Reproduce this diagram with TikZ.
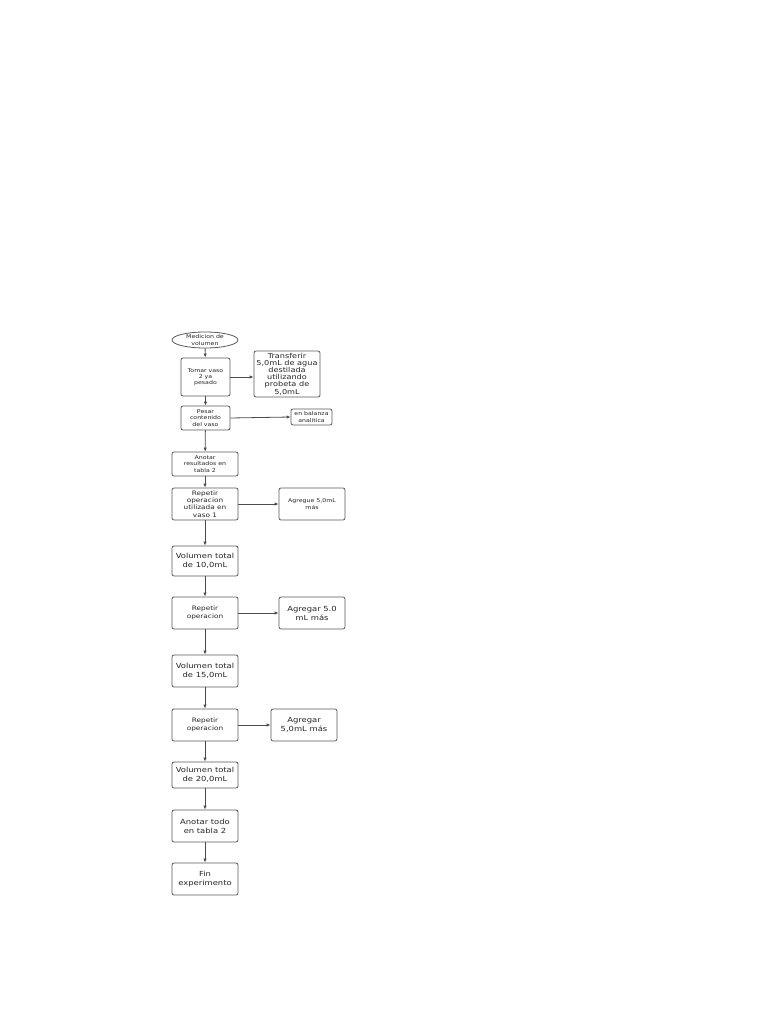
\documentclass[tikz,border=0pt]{standalone}
\usepackage{fontspec}
\setmainfont{DejaVu Sans}[FakeStretch=1.2]
\usepackage{tikz}
\usetikzlibrary{arrows.meta,shapes}
\usetikzlibrary{positioning}
\tikzset{
    box/.style={draw=black!65, rounded corners=2pt, fill=white, align=center,
        inner sep=0pt, line width=0.8pt, text=black!85},
    oval/.style={box, ellipse},
    smalltext/.style={font=\fontsize{5.2}{6.3}\selectfont},
    midtext/.style={font=\fontsize{6.1}{7.4}\selectfont},
    transtext/.style={font=\fontsize{6.8}{7.2}\selectfont},
    bigtext/.style={font=\fontsize{7}{9}\selectfont},
    flow/.style={draw=black!70, line width=0.8pt, -{Latex[length=4pt,width=3.4pt]}},
}
\begin{document}
\begin{tikzpicture}[x=1pt, y=-1pt]
	\useasboundingbox (0,0) rectangle (768,1024);
	% left column
	\node[oval, smalltext, minimum width=66pt, minimum height=16pt] (medicion) at (205,340) {Medicion de\\volumen};
	\node[box, smalltext, minimum width=49pt, minimum height=38pt] (tomar) at (205.5,377) {Tomar vaso\\2 ya\\pesado};
	\node[box, smalltext, minimum width=49pt, minimum height=24pt] (pesar) at (205.5,418) {Pesar\\contenido\\del vaso};
	\node[box, smalltext, minimum width=66pt, minimum height=24pt] (anotar) at (205,464) {Anotar\\resultados en\\tabla 2};
	\node[box, midtext, minimum width=66pt, minimum height=32pt] (repetirA) at (205,504) {Repetir\\operacion\\utilizada en\\vaso 1};
	\node[box, bigtext, minimum width=66pt, minimum height=30pt] (totalA) at (205,561) {Volumen total\\de 10,0mL};
	\node[box, midtext, minimum width=66pt, minimum height=32pt] (repetirB) at (205,613) {Repetir\\operacion};
	\node[box, bigtext, minimum width=66pt, minimum height=32pt] (totalB) at (205,671) {Volumen total\\de 15,0mL};
	\node[box, midtext, minimum width=66pt, minimum height=32pt] (repetirC) at (205,725) {Repetir\\operacion};
	\node[box, bigtext, minimum width=66pt, minimum height=26pt] (totalC) at (205,775) {Volumen total\\de 20,0mL};
	\node[box, bigtext, minimum width=66pt, minimum height=32pt] (anotartodo) at (205,826) {Anotar todo\\en tabla 2};
	\node[box, bigtext, minimum width=66pt, minimum height=32pt] (fin) at (205,879) {Fin\\experimento};
	% right column
	\node[box, transtext, minimum width=66pt, minimum height=46pt] (transferir) at (287,374) {Transferir\\5,0mL de agua\\destilada\\utilizando\\probeta de\\5,0mL};
	\node[box, smalltext, minimum width=41pt, minimum height=16pt] (balanza) at (311.5,417) {en balanza\\analitica};
	\node[box, smalltext, minimum width=66pt, minimum height=32pt] (agregueA) at (312,504) {Agregue 5,0mL\\más};
	\node[box, bigtext, minimum width=66pt, minimum height=32pt] (agregarB) at (312,613) {Agregar 5.0\\mL más};
	\node[box, bigtext, minimum width=66pt, minimum height=32pt] (agregarC) at (304,725) {Agregar\\5,0mL más};
	%
	\draw[flow] (medicion) -- (tomar);
	\draw[flow] (tomar) -- (pesar);
	\draw[flow] (pesar) -- (anotar);
	\draw[flow] (anotar) -- (repetirA);
	\draw[flow] (repetirA) -- (totalA);
	\draw[flow] (totalA) -- (repetirB);
	\draw[flow] (repetirB) -- (totalB);
	\draw[flow] (totalB) -- (repetirC);
	\draw[flow] (repetirC) -- (totalC);
	\draw[flow] (totalC) -- (anotartodo);
	\draw[flow] (anotartodo) -- (fin);
	%
	\draw[flow] (tomar.east) -- (tomar.east -| transferir.west);
	\draw[flow] (pesar.east) -- (balanza.west);
	\draw[flow] (repetirA) -- (agregueA);
	\draw[flow] (repetirB) -- (agregarB);
	\draw[flow] (repetirC) -- (agregarC);
\end{tikzpicture}
\end{document}
